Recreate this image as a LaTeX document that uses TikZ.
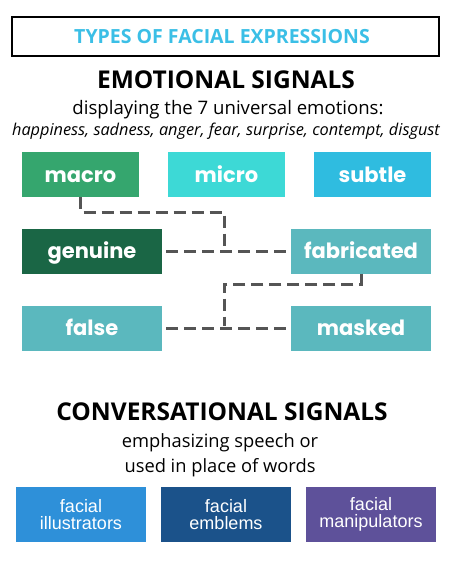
\documentclass[tikz,border=0pt]{standalone}
\usepackage{fontspec}
\setmainfont{Open Sans}
\newfontfamily\boxfont{Poppins}
\newfontfamily\convfont{Liberation Sans}
\usepackage{tikz}
\definecolor{titlecyan}{HTML}{3BBFE6}
\definecolor{macrogreen}{HTML}{35A66E}
\definecolor{microcyan}{HTML}{3DD9D6}
\definecolor{subtleblue}{HTML}{2FBCE0}
\definecolor{genuinegreen}{HTML}{1A6645}
\definecolor{fakteal}{HTML}{5BB8BE}
\definecolor{illublue}{HTML}{2E90D9}
\definecolor{emblblue}{HTML}{1B528A}
\definecolor{manipurple}{HTML}{5E519A}
\definecolor{linkgray}{HTML}{555555}
\tikzset{
	emobox/.style={fill=#1, text=white, minimum height=45pt, inner sep=0pt, text height=15pt, text depth=0pt, font=\boxfont\bfseries\fontsize{21}{23}\selectfont},
	convbox/.style={fill=#1, text=white, minimum width=130pt, minimum height=55pt, inner sep=0pt, align=center, font=\convfont\fontsize{18}{17.5}\selectfont},
	link/.style={linkgray, line width=3pt, dash pattern=on 12pt off 6pt}
}

\begin{document}
\begin{tikzpicture}[x=1pt, y=-1pt]
		\useasboundingbox (0,0) rectangle (456,563);
		\node (titlebox) [draw, line width=2pt, minimum width=427pt, minimum height=39pt] at (225.5,36.5) {};
		\node (title) at (222,37) {\color{titlecyan}\bfseries\fontsize{19.5}{21}\selectfont TYPES OF FACIAL EXPRESSIONS};
		\node (emohead) at (226,80) {\bfseries\fontsize{24.5}{26}\selectfont EMOTIONAL SIGNALS};
		\node (emosub) at (228,110) {\fontsize{18.6}{20}\selectfont displaying the 7 universal emotions:};
		\node (emolist) at (226,131) {\itshape\fontsize{16.3}{18}\selectfont happiness, sadness, anger, fear, surprise, contempt, disgust};
		%
		\node (macro) [emobox=macrogreen, minimum width=117pt] at (80.5,174.5) {macro};
		\node (micro) [emobox=microcyan, minimum width=117pt] at (226.5,174.5) {micro};
		\node (subtle) [emobox=subtleblue, minimum width=117pt] at (372.5,174.5) {subtle};
		\node (genuine) [emobox=genuinegreen, minimum width=140pt] at (92,251) {genuine};
		\node (fabricated) [emobox=fakteal, minimum width=140pt] at (361,251) {fabricated};
		\node (false) [emobox=fakteal, minimum width=140pt] at (92,328) {false};
		\node (masked) [emobox=fakteal, minimum width=140pt] at (361,328) {masked};
		%
		\coordinate (upturn) at (224,212);
		\coordinate (upjoin) at (224,249);
		\coordinate (downturn) at (224,284);
		\coordinate (downjoin) at (224,326);
		\draw [link] (macro.south) |- (upturn) to (upjoin);
		\draw [link, shorten <=4pt, shorten >=5pt] (genuine.east) to (fabricated.west);
		\draw [link] (fabricated.south) |- (downturn) to (downjoin);
		\draw [link, shorten <=4pt, shorten >=5pt] (false.east) to (masked.west);
		%
		\node (convhead) at (222,412) {\bfseries\fontsize{24.5}{26}\selectfont CONVERSATIONAL SIGNALS};
		\node (convsub) at (220,455) [align=center, font=\fontsize{18.3}{25}\selectfont] {emphasizing speech or\\used in place of words};
		\node (illustrators) [convbox=illublue] at (81,514.5) {facial\\illustrators};
		\node (emblems) [convbox=emblblue] at (226,514.5) {facial\\emblems};
		\node (manipulators) [convbox=manipurple] at (371,514.5) {facial\\manipulators};
	\end{tikzpicture}
\end{document}
